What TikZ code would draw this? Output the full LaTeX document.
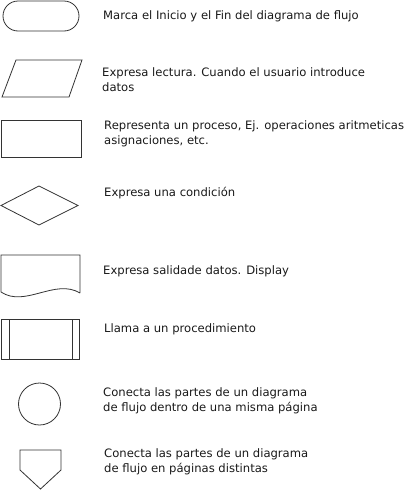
\documentclass[tikz,border=0pt]{standalone}
\usepackage{fontspec}
\setmainfont{DejaVu Sans}
\begin{document}
\begin{tikzpicture}[x=1pt,y=-1pt,
  shp/.style={draw=black!80,line width=0.8pt,fill=white},
  lbl/.style={anchor=base west,inner sep=0pt,align=left,text=black!90,
    font=\fontsize{11.6}{15}\selectfont}]
\useasboundingbox (0,0) rectangle (405,490);
% shapes
\draw[shp,rounded corners=15pt] (3,1) rectangle (79,31);
\draw[shp] (16,60) -- (82,60) -- (69,97) -- (2,97) -- cycle;
\draw[shp] (1,120) rectangle (81,157);
\draw[shp] (1,205.5) -- (39,186) -- (78,205.5) -- (39,225) -- cycle;
\draw[shp] (80,293) -- (80,255) -- (1,255) -- (1,292)
  .. controls (25,308) and (55,278) .. (80,293);
\draw[shp] (1,319) rectangle (79,359);
\draw[shp] (9,319) -- (9,359) (72,319) -- (72,359);
\draw[shp] (39.5,404) circle (21);
\draw[shp] (20,450) -- (61,450) -- (61,470) -- (40.5,489) -- (20,470) -- cycle;
% labels (multi-line nodes are placed by the baseline of their last line)
\node[lbl] (t1) at (103,19) {Marca el Inicio y el Fin del diagrama de flujo};
\node[lbl] (t2) at (102,91) {Expresa lectura. Cuando el usuario introduce\\datos};
\node[lbl] (t3) at (104,144) {Representa un proceso, Ej. operaciones aritmeticas\\asignaciones, etc.};
\node[lbl] (t4) at (104,196) {Expresa una condición};
\node[lbl] (t5) at (103,274) {Expresa salidade datos. Display};
\node[lbl] (t6) at (104,332) {Llama a un procedimiento};
\node[lbl] (t7) at (103,411) {Conecta las partes de un diagrama\\de flujo dentro de una misma página};
\node[lbl] (t8) at (104,472) {Conecta las partes de un diagrama\\de flujo en páginas distintas};
\end{tikzpicture}
\end{document}
